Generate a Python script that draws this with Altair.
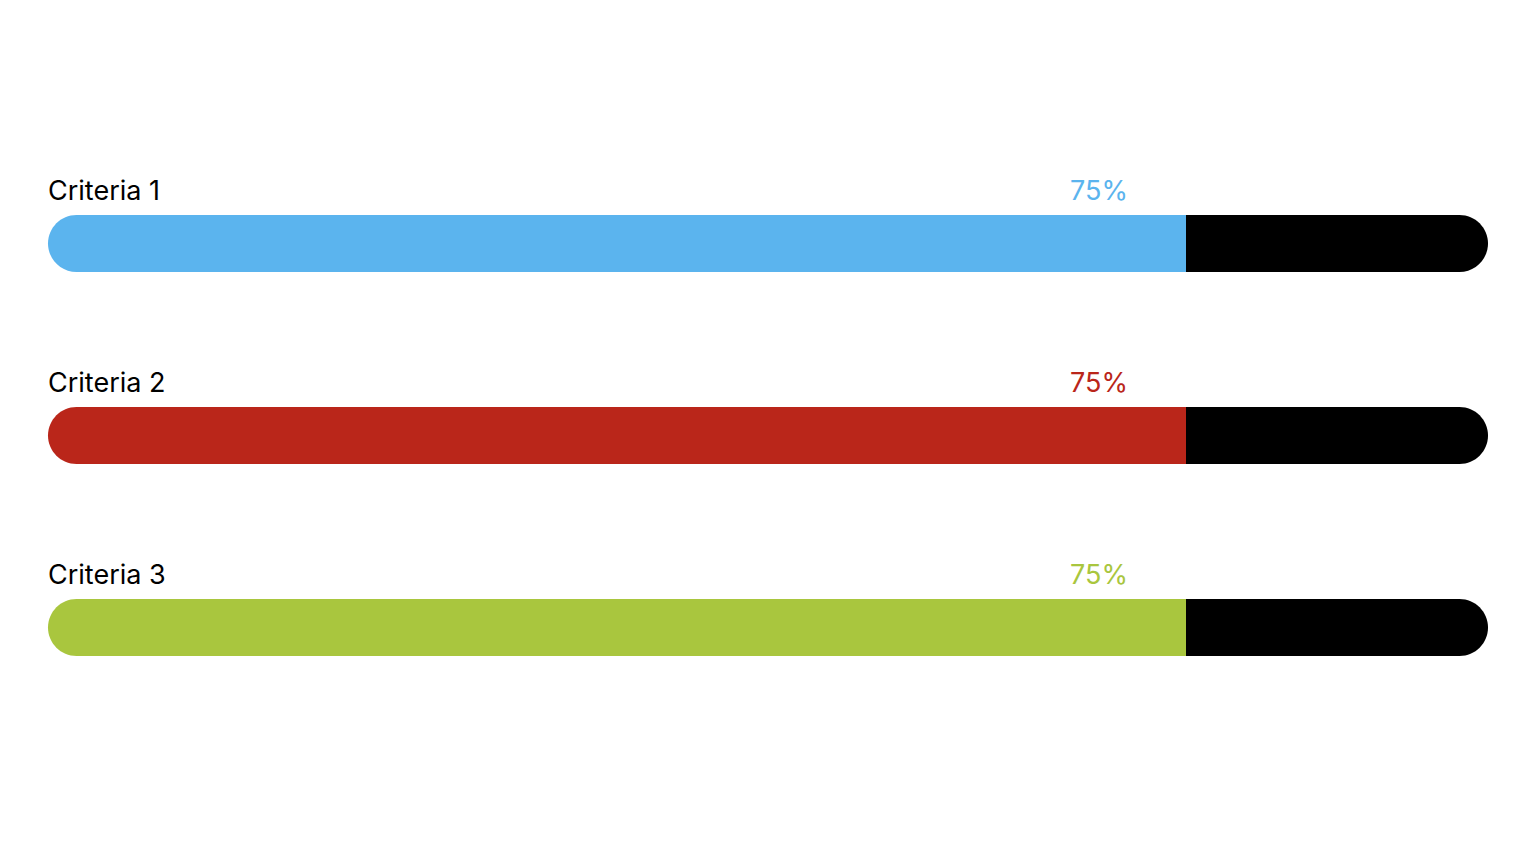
import altair as alt
import pandas as pd

criteria = ["Criteria 1", "Criteria 2", "Criteria 3"]
values = [75, 75, 75]
totals = [100, 100, 100]
colors = ["#5BB4EE", "#BA261A", "#A9C63E"]

df = pd.DataFrame({
    "criteria": criteria,
    "value": values,
    "total": totals,
    "zero": [0, 0, 0],
    "label": [f"{v}%" for v in values],
})

y = alt.Y("criteria:N", sort=criteria, axis=None,
          scale=alt.Scale(paddingInner=0, paddingOuter=0))
x_scale = alt.Scale(domain=[0, 100], nice=False, zero=True)
color = alt.Color("criteria:N", scale=alt.Scale(domain=criteria, range=colors), legend=None)

# remaining (black) part, right corners rounded
bg = alt.Chart(df).mark_bar(color="black", size=57, xOffset=58,
                            cornerRadiusTopRight=28.5,
                            cornerRadiusBottomRight=28.5).encode(
    x=alt.X("value:Q", scale=x_scale, axis=None),
    x2="total:Q",
    y=y,
)

fg = alt.Chart(df).mark_bar(size=57, cornerRadiusTopLeft=28.5,
                            cornerRadiusBottomLeft=28.5, x2Offset=58).encode(
    x=alt.X("zero:Q", scale=x_scale, axis=None),
    x2="value:Q",
    y=y,
    color=color,
)

names = alt.Chart(df).mark_text(align="left", baseline="alphabetic", dy=-44,
                                font="Inter", fontSize=27, color="black").encode(
    x=alt.X("zero:Q", scale=x_scale, axis=None),
    y=y,
    text="criteria:N",
)

pct = alt.Chart(df).mark_text(align="right", baseline="alphabetic", dy=-44,
                              font="Inter", fontSize=27).encode(
    x=alt.X("value:Q", scale=x_scale, axis=None),
    y=y,
    text="label:N",
    color=color,
)

chart = alt.layer(bg, fg, names, pct).properties(
    width=1440, height=576,
    padding={"left": 40, "right": 40, "top": 139.5, "bottom": 100},
    background="white",
).configure_view(stroke=None)

chart.save("out.html", embed_options={"renderer": "svg", "actions": False})
